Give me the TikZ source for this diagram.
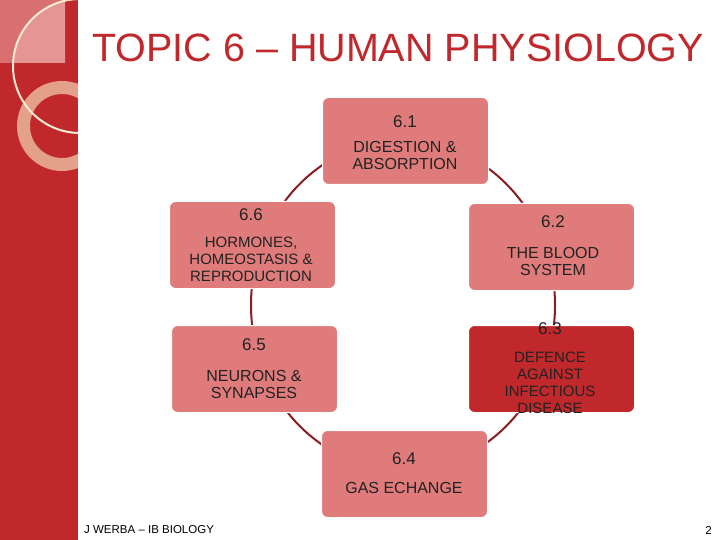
\documentclass[tikz,border=0pt]{standalone}
\usepackage{fontspec}
\setmainfont{Liberation Sans}
\definecolor{band}{HTML}{C0282C}
\definecolor{boxc}{HTML}{E07B7B}
\definecolor{pinkc}{HTML}{D97070}
\definecolor{ringc}{HTML}{E3A08A}
\definecolor{creamc}{HTML}{FBEBD2}
\definecolor{linec}{HTML}{8B1C1F}
\definecolor{txt}{HTML}{222222}
\begin{document}
\begin{tikzpicture}[x=1pt,y=-1pt,
  topic/.style={draw=white,line width=1pt,fill=boxc,rounded corners=6pt,minimum width=166pt,minimum height=87pt,anchor=north west,inner sep=0pt},
  lbl/.style={font=\fontsize{17}{19}\selectfont,align=center,text=txt},
  sm/.style={font=\fontsize{16}{17}\selectfont}]
\useasboundingbox (0,0) rectangle (720,540);
\fill[white] (0,0) rectangle (720,540);
\begin{scope}
\clip (0,0) rectangle (78,540);
\fill[band] (0,0) rectangle (78,540);
\fill[pinkc] (0,0) rectangle (65,63);
\begin{scope}\clip (0,0) rectangle (65,63); \fill[boxc!80!white] (80,66) circle (67);\end{scope}
\draw[ringc,line width=13pt] (62,126) circle (38.5);
\draw[creamc,line width=2pt] (80,66) circle (67);
\end{scope}
\node[text=band,font=\fontsize{39.5}{42}\selectfont,anchor=west,inner sep=0pt] (title) at (92,48) {TOPIC 6 – HUMAN PHYSIOLOGY};
\draw[linec,line width=2pt] (403,305) ellipse [x radius=152, y radius=165];
\node[topic] (n1) at (322,97) {};
\node[topic] (n2) at (468,203) {};
\node[topic,fill=band] (n3) at (468,325) {};
\node[topic] (n4) at (321,430) {};
\node[topic] (n5) at (171,325) {};
\node[topic] (n6) at (169,201) {};
\node[lbl] (t1a) at (405,122) {6.1};
\node[lbl,sm] (t1b) at (405,155) {DIGESTION \&\\ABSORPTION};
\node[lbl] (t2a) at (553,222) {6.2};
\node[lbl,sm] (t2b) at (553,261) {THE BLOOD\\SYSTEM};
\node[lbl] (t3a) at (550,329) {6.3};
\node[lbl,font=\fontsize{15}{17}\selectfont] (t3b) at (550,383) {DEFENCE\\AGAINST\\INFECTIOUS\\DISEASE};
\node[lbl] (t4a) at (404,459) {6.4};
\node[lbl,sm] (t4b) at (404,488) {GAS ECHANGE};
\node[lbl] (t5a) at (254,345) {6.5};
\node[lbl,sm] (t5b) at (254,384) {NEURONS \&\\SYNAPSES};
\node[lbl] (t6a) at (251,215) {6.6};
\node[lbl,font=\fontsize{15}{17}\selectfont] (t6b) at (251,259) {HORMONES,\\HOMEOSTASIS \&\\REPRODUCTION};
\node[font=\fontsize{11.5}{12}\selectfont,anchor=west,inner sep=0pt] (foot) at (84,530) {J WERBA – IB BIOLOGY};
\node[font=\fontsize{11.5}{12}\selectfont,anchor=east,inner sep=0pt] (pg) at (712,530) {2};
\end{tikzpicture}
\end{document}
